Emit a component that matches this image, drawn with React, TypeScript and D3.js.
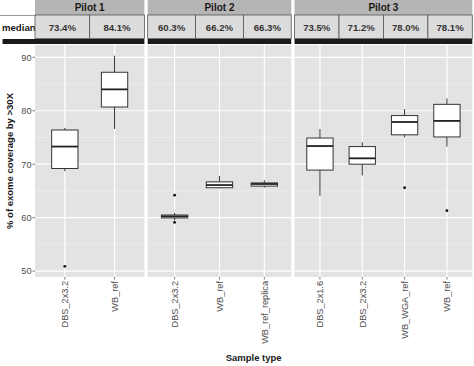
import React from "react";
import * as d3 from "d3";

const pilots = ["Pilot 1", "Pilot 2", "Pilot 3"];
const sampleTypes = ["DBS_2x3.2", "WB_ref", "DBS_2x3.2", "WB_ref", "WB_ref_replica", "DBS_2x1.6", "DBS_2x3.2", "WB_WGA_ref", "WB_ref"];
const pilotOf = [0, 0, 1, 1, 1, 2, 2, 2, 2];
const whiskerLow = [68.7, 76.6, 59.5, 65.5, 65.6, 64.1, 67.9, 75.0, 73.3];
const q1 = [69.2, 80.7, 59.95, 65.6, 65.9, 68.9, 70.0, 75.5, 75.1];
const medians = [73.3, 84.0, 60.25, 66.1, 66.3, 73.4, 71.1, 77.9, 78.1];
const q3 = [76.4, 87.2, 60.5, 66.7, 66.5, 74.9, 73.3, 79.1, 81.2];
const whiskerHigh = [76.8, 90.3, 60.9, 67.8, 67.0, 76.6, 74.1, 80.3, 82.3];
const outliers = [[50.9], [], [64.2, 59.1], [], [], [], [], [65.6], [61.3]];
const medianLabels = ["73.4%", "84.1%", "60.3%", "66.2%", "66.3%", "73.5%", "71.2%", "78.0%", "78.1%"];
const yTicks = [50, 60, 70, 80, 90];
const yMinor = [55, 65, 75, 85];

const W = 474, H = 366;
const plotLeft = 35, plotRight = 472.3, gap = 3.3;
const panelTop = 45, panelBottom = 277;
const font = "Liberation Sans, Arial, sans-serif";

export default function App() {
  const y = d3.scaleLinear().domain([48.9, 92.3]).range([panelBottom, panelTop]);
  const counts = pilots.map((_, p) => pilotOf.filter((q) => q === p).length);
  const totalUnits = d3.sum(counts, (n) => n + 1.2);
  const unit = (plotRight - plotLeft - gap * (pilots.length - 1)) / totalUnits;
  let cursor = plotLeft;
  const panels = pilots.map((name, p) => {
    const n = counts[p];
    const x0 = cursor;
    const x1 = x0 + (n + 1.2) * unit;
    cursor = x1 + gap;
    const x = d3.scaleLinear().domain([0.4, n + 0.6]).range([x0, x1]);
    const idx = sampleTypes.map((_, i) => i).filter((i) => pilotOf[i] === p);
    return { name, x0, x1, x, idx };
  });
  const boxW = unit * 0.77;

  return (
    <svg width={W} height={H} style={{ display: "block", position: "absolute", left: 0, top: 0 }} fontFamily={font}>
      <rect x={0} y={0} width={W} height={H} fill="#ffffff" />
      {/* median label row left */}
      <line x1={0} x2={plotLeft} y1={15.5} y2={15.5} stroke="#9a9a9a" strokeWidth={1} />
      <text x={2} y={31} fontSize={9.6} fontWeight="bold" fill="#1a1a1a">median</text>
      <rect x={2.5} y={39} width={plotLeft - 2.5} height={5} fill="#1a1a1a" />
      {panels.map((pan, p) => (
        <g key={pan.name}>
          {/* strip */}
          <rect x={pan.x0} y={0} width={pan.x1 - pan.x0} height={15} fill="#b5b5b5" />
          <text x={(pan.x0 + pan.x1) / 2} y={11} textAnchor="middle" fontSize={10} fontWeight="bold" fill="#1a1a1a">{pan.name}</text>
          {/* median cells */}
          {pan.idx.map((i, k) => {
            const cw = (pan.x1 - pan.x0) / pan.idx.length;
            const cx = pan.x0 + k * cw;
            return (
              <g key={i}>
                <rect x={cx} y={15} width={cw} height={23.5} fill="#dcdcdc" stroke="#555" strokeWidth={0.8} />
                <text x={cx + cw / 2} y={31} textAnchor="middle" fontSize={9.6} fontWeight="bold" fill="#333">{medianLabels[i]}</text>
              </g>
            );
          })}
          <rect x={pan.x0} y={39} width={pan.x1 - pan.x0} height={5} fill="#1a1a1a" />
          {/* panel */}
          <rect x={pan.x0} y={panelTop} width={pan.x1 - pan.x0} height={panelBottom - panelTop} fill="#e3e3e3" />
          {yMinor.map((t) => (
            <line key={"m" + t} x1={pan.x0} x2={pan.x1} y1={y(t)} y2={y(t)} stroke="#f2f2f2" strokeWidth={0.6} />
          ))}
          {yTicks.map((t) => (
            <line key={"g" + t} x1={pan.x0} x2={pan.x1} y1={y(t)} y2={y(t)} stroke="#ffffff" strokeWidth={1.2} />
          ))}
          {pan.idx.map((i, k) => (
            <line key={"v" + i} x1={pan.x(k + 1)} x2={pan.x(k + 1)} y1={panelTop} y2={panelBottom} stroke="#ffffff" strokeWidth={1.2} />
          ))}
          {/* boxes */}
          {pan.idx.map((i, k) => {
            const cx = pan.x(k + 1);
            return (
              <g key={"b" + i}>
                <line x1={cx} x2={cx} y1={y(whiskerHigh[i])} y2={y(q3[i])} stroke="#333" strokeWidth={1} />
                <line x1={cx} x2={cx} y1={y(q1[i])} y2={y(whiskerLow[i])} stroke="#333" strokeWidth={1} />
                <rect x={cx - boxW / 2} y={y(q3[i])} width={boxW} height={Math.max(0.5, y(q1[i]) - y(q3[i]))} fill="#ffffff" stroke="#333" strokeWidth={1} />
                <line x1={cx - boxW / 2} x2={cx + boxW / 2} y1={y(medians[i])} y2={y(medians[i])} stroke="#222" strokeWidth={1.8} />
                {outliers[i].map((o, j) => (
                  <circle key={j} cx={cx} cy={y(o)} r={1.4} fill="#111" />
                ))}
                {/* x tick + label */}
                <line x1={cx} x2={cx} y1={panelBottom} y2={panelBottom + 2.5} stroke="#555" strokeWidth={0.8} />
                <text transform={`translate(${cx + 3.3},${panelBottom + 4}) rotate(-90)`} textAnchor="end" fontSize={9.2} fill="#4d4d4d">{sampleTypes[i]}</text>
              </g>
            );
          })}
        </g>
      ))}
      {/* y axis */}
      {yTicks.map((t) => (
        <g key={"yt" + t}>
          <line x1={plotLeft - 2.5} x2={plotLeft} y1={y(t)} y2={y(t)} stroke="#555" strokeWidth={0.8} />
          <text x={plotLeft - 3.5} y={y(t) + 3.3} textAnchor="end" fontSize={9.2} fill="#4d4d4d">{t}</text>
        </g>
      ))}
      <text transform={`translate(13,${(panelTop + panelBottom) / 2}) rotate(-90)`} textAnchor="middle" fontSize={9.5} fontWeight="bold" fill="#1a1a1a">% of exome coverage by &gt;30X</text>
      <text x={(plotLeft + plotRight) / 2} y={361} textAnchor="middle" fontSize={9.5} fontWeight="bold" fill="#1a1a1a">Sample type</text>
    </svg>
  );
}
